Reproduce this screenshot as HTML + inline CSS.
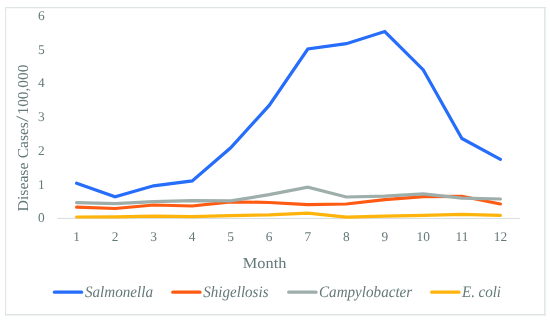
<!DOCTYPE html>
<html><head><meta charset="utf-8"><title>Chart</title>
<style>
html,body{margin:0;padding:0;background:#fff;}
svg{display:block;text-rendering:geometricPrecision;font-family:"Liberation Serif","DejaVu Serif",serif;}
text{fill:#647878;}
.pl{fill:none;stroke-width:3.2;stroke-linecap:round;stroke-linejoin:miter;}
</style></head><body>
<svg width="550" height="322" viewBox="0 0 550 322">
<rect x="0" y="0" width="550" height="322" fill="#ffffff"/>
<g stroke="#dfe5e5" fill="none">
<line x1="5.6" y1="7" x2="5.6" y2="315.6" stroke-width="1.1"/>
<line x1="5" y1="7.6" x2="545.6" y2="7.6" stroke-width="1.1"/>
<line x1="544.85" y1="7" x2="544.85" y2="315.6" stroke-width="1.5"/>
<line x1="5" y1="314.85" x2="545.6" y2="314.85" stroke-width="1.5"/>
</g>
<line x1="57.3" y1="218.4" x2="519.8" y2="218.4" stroke="#d6dddd" stroke-width="1"/>
<g font-size="13.4" text-anchor="end">
<text x="44.8" y="222.3">0</text>
<text x="44.8" y="188.6">1</text>
<text x="44.8" y="154.8">2</text>
<text x="44.8" y="121.1">3</text>
<text x="44.8" y="87.3">4</text>
<text x="44.8" y="53.6">5</text>
<text x="44.8" y="19.8">6</text>
</g>
<g font-size="13.4" text-anchor="middle">
<text x="76.6" y="240.8">1</text>
<text x="115.1" y="240.8">2</text>
<text x="153.6" y="240.8">3</text>
<text x="192.2" y="240.8">4</text>
<text x="230.7" y="240.8">5</text>
<text x="269.2" y="240.8">6</text>
<text x="307.8" y="240.8">7</text>
<text x="346.3" y="240.8">8</text>
<text x="384.8" y="240.8">9</text>
<text x="423.3" y="240.8">10</text>
<text x="461.9" y="240.8">11</text>
<text x="500.4" y="240.8">12</text>
</g>
<text x="264.55" y="267.9" font-size="15.2" text-anchor="middle" textLength="43.6" lengthAdjust="spacingAndGlyphs">Month</text>
<text transform="translate(27.8,0) rotate(-90)" font-size="15.2"><tspan x="-211.5" textLength="49" lengthAdjust="spacingAndGlyphs">Disease</tspan> <tspan x="-158.3" textLength="36.2" lengthAdjust="spacingAndGlyphs">Cases</tspan><tspan x="-122" dy="0.4" font-size="17.5" textLength="6.3" lengthAdjust="spacingAndGlyphs">/</tspan> <tspan x="-114.5" dy="-0.4" textLength="49.8" lengthAdjust="spacingAndGlyphs">100,000</tspan></text>
<polyline class="pl" stroke="#256dfa" points="76.6,183.2 115.1,196.7 153.6,185.8 192.2,180.9 230.7,147.8 269.2,105.4 307.8,49.0 346.3,43.7 384.8,31.5 423.3,69.9 461.9,138.5 500.4,159.3"/>
<polyline class="pl" stroke="#ff5a12" points="76.6,207.1 115.1,208.5 153.6,205.0 192.2,206.0 230.7,201.8 269.2,202.5 307.8,204.7 346.3,204.0 384.8,199.6 423.3,196.7 461.9,196.3 500.4,204.0"/>
<polyline class="pl" stroke="#9daeab" points="76.6,202.7 115.1,203.6 153.6,201.7 192.2,200.7 230.7,200.9 269.2,194.6 307.8,187.2 346.3,197.0 384.8,196.1 423.3,193.8 461.9,198.1 500.4,199.0"/>
<polyline class="pl" stroke="#ffb40c" points="76.6,217.0 115.1,216.9 153.6,216.2 192.2,216.7 230.7,215.6 269.2,214.9 307.8,213.2 346.3,217.1 384.8,216.2 423.3,215.3 461.9,214.3 500.4,215.4"/>
<g font-size="16" font-style="italic">
<line class="pl" x1="54.4" y1="292.2" x2="81.6" y2="292.2" stroke="#256dfa"/>
<text x="85" y="296.5" textLength="68" lengthAdjust="spacingAndGlyphs">Salmonella</text>
<line class="pl" x1="172.8" y1="292.2" x2="200" y2="292.2" stroke="#ff5a12"/>
<text x="203.3" y="296.5" textLength="65.2" lengthAdjust="spacingAndGlyphs">Shigellosis</text>
<line class="pl" x1="288.7" y1="292.2" x2="316" y2="292.2" stroke="#9daeab"/>
<text x="319" y="296.5" textLength="93.2" lengthAdjust="spacingAndGlyphs">Campylobacter</text>
<line class="pl" x1="431.7" y1="292.2" x2="459" y2="292.2" stroke="#ffb40c"/>
<text x="462" y="296.5" textLength="39" lengthAdjust="spacingAndGlyphs">E. coli</text>
</g>
</svg>
</body></html>
